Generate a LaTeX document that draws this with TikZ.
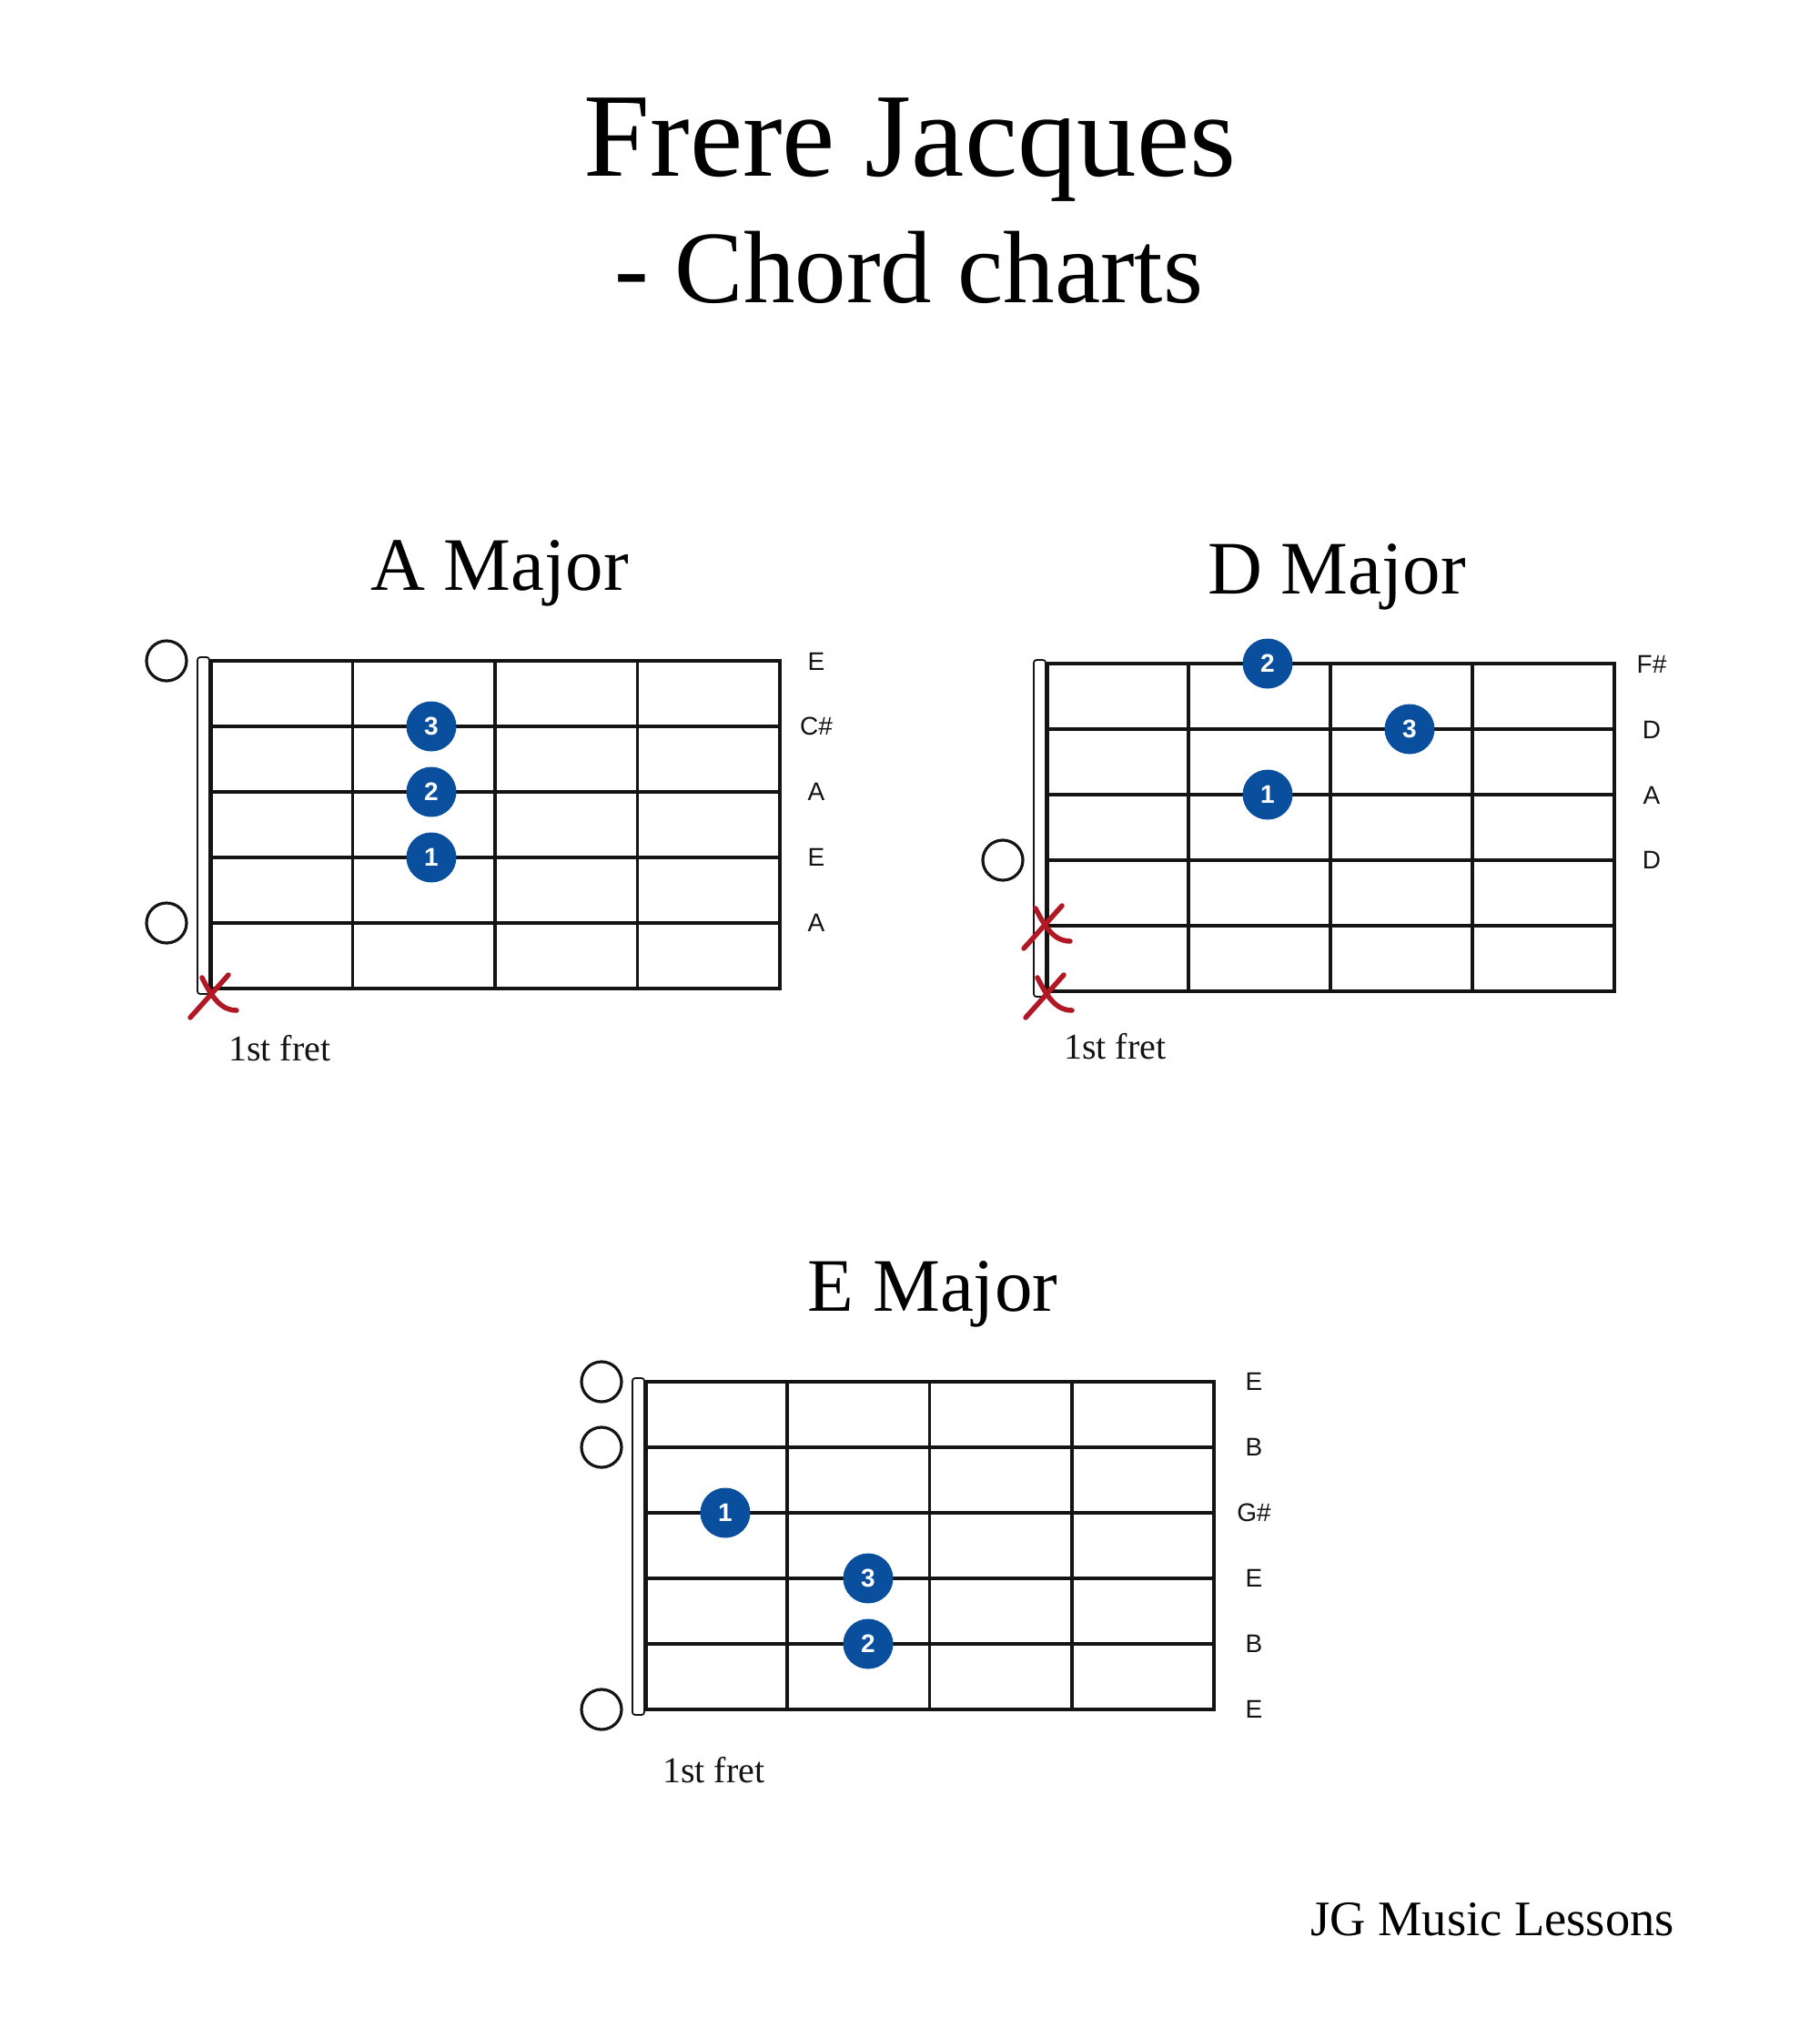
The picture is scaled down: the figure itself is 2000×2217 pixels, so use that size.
\documentclass[tikz,border=0pt]{standalone}
\usepackage{fontspec}
\setmainfont{Liberation Serif}
\newfontfamily\notefont{Liberation Sans}
\definecolor{dotblue}{RGB}{10,79,158}
\definecolor{xred}{RGB}{178,24,36}
\definecolor{ink}{RGB}{20,20,20}
\tikzset{
 gridline/.style={line width=3.6pt, draw=ink, line cap=rect},
 nutline/.style={line width=5pt, draw=ink},
 nutbar/.style={draw=ink, line width=1.8pt, fill=white, rounded corners=3pt},
 opencirc/.style={circle, draw=ink, line width=3.2pt, minimum size=44pt, inner sep=0pt},
 fingerdot/.style={circle, fill=dotblue, minimum size=55pt, inner sep=0pt, text=white, font=\notefont\bfseries\fontsize{28}{28}\selectfont},
 notelabel/.style={font=\notefont\fontsize{28}{28}\selectfont, text=ink, inner sep=0pt},
 mutex/.style={draw=xred, line width=5.5pt, line cap=round},
 fretlabel/.style={font=\fontsize{40}{40}\selectfont, anchor=base west, inner sep=0pt, text=ink},
 chordtitle/.style={font=\fontsize{83}{83}\selectfont, anchor=base, inner sep=0pt},
}
\newcommand{\fretgrid}[3]{%
 \draw[nutbar] ({#1-14},{#2-4}) rectangle ({#1-1},{#2+366});
 \foreach \s in {0,...,5} \draw[gridline] (#1,{#2+72*\s}) -- ({#1+4*#3},{#2+72*\s});
 \foreach \f in {1,...,4} \draw[gridline] ({#1+#3*\f},#2) -- ({#1+#3*\f},{#2+360});
 \draw[nutline] (#1,{#2-1.8}) -- (#1,{#2+361.8});
}
\newcommand{\mutemark}[2]{%
 \draw[mutex] ({#1+19},{#2-21}) -- ({#1-23},{#2+26});
 \draw[mutex] ({#1-10},{#2-18}) .. controls ({#1+2},{#2+6}) and ({#1+12},{#2+18}) .. ({#1+28},{#2+18});
}
\begin{document}
\begin{tikzpicture}[x=1pt,y=-1pt]
\useasboundingbox[fill=white] (0,0) rectangle (2000,2217);
% titles
\node[anchor=base, inner sep=0pt, font=\fontsize{131}{131}\selectfont] (title) at (1000,193) {Frere Jacques};
\node[anchor=base, inner sep=0pt, font=\fontsize{113}{113}\selectfont] (subtitle) at (999,332) {- Chord charts};
\node[anchor=base east, inner sep=0pt, font=\fontsize{54.5}{54.5}\selectfont] (brand) at (1840,2126) {JG Music Lessons};

% ===== A Major =====
\node[chordtitle] (atitle) at (549,648) {A Major};
\fretgrid{231}{726}{156.5}
\node[opencirc] (ao1) at (183,726) {};
\node[opencirc] (ao5) at (183,1014) {};
\node[fingerdot] (a3) at (474,798) {3};
\node[fingerdot] (a2) at (474,870) {2};
\node[fingerdot] (a1) at (474,942) {1};
\mutemark{232}{1092}
\node[notelabel] (al1) at (897,727) {E};
\node[notelabel] (al2) at (897,798) {C\#};
\node[notelabel] (al3) at (897,870) {A};
\node[notelabel] (al4) at (897,942) {E};
\node[notelabel] (al5) at (897,1014) {A};
\node[fretlabel] (afret) at (251,1165) {1st fret};

% ===== D Major =====
\node[chordtitle] (dtitle) at (1469,652) {D Major};
\fretgrid{1150}{729}{156}
\node[fingerdot] (d2) at (1393,729) {2};
\node[fingerdot] (d3) at (1549,801) {3};
\node[fingerdot] (d1) at (1393,873) {1};
\node[opencirc] (do4) at (1102,945) {};
\mutemark{1148}{1016}
\mutemark{1150}{1092}
\node[notelabel] (dl1) at (1815,730) {F\#};
\node[notelabel] (dl2) at (1815,802) {D};
\node[notelabel] (dl3) at (1815,874) {A};
\node[notelabel] (dl4) at (1815,945) {D};
\node[fretlabel] (dfret) at (1169,1163) {1st fret};

% ===== E Major =====
\node[chordtitle] (etitle) at (1025,1440) {E Major};
\fretgrid{709}{1518}{156.25}
\node[opencirc] (eo1) at (661,1518) {};
\node[opencirc] (eo2) at (661,1590) {};
\node[opencirc] (eo6) at (661,1878) {};
\node[fingerdot] (e1) at (797,1662) {1};
\node[fingerdot] (e3) at (954,1734) {3};
\node[fingerdot] (e2) at (954,1806) {2};
\node[notelabel] (el1) at (1378,1518) {E};
\node[notelabel] (el2) at (1378,1590) {B};
\node[notelabel] (el3) at (1378,1662) {G\#};
\node[notelabel] (el4) at (1378,1734) {E};
\node[notelabel] (el5) at (1378,1806) {B};
\node[notelabel] (el6) at (1378,1878) {E};
\node[fretlabel] (efret) at (728,1958) {1st fret};
\end{tikzpicture}
\end{document}
